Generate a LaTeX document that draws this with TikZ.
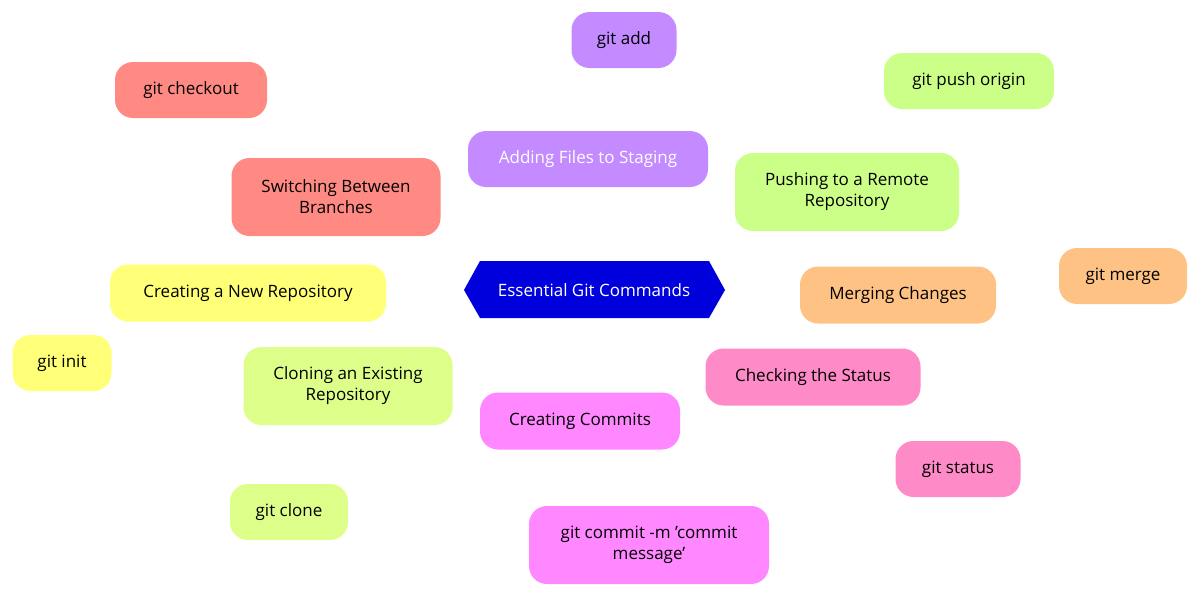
\documentclass[tikz,border=0pt]{standalone}
\usepackage{fontspec}
\setmainfont{Open Sans}
\usetikzlibrary{shapes.geometric}
\definecolor{cpur}{HTML}{C38BFF}
\definecolor{cred}{HTML}{FF8A84}
\definecolor{cgrn}{HTML}{CCFF88}
\definecolor{corg}{HTML}{FFC285}
\definecolor{cpnk}{HTML}{FF8AC8}
\definecolor{cmag}{HTML}{FF87FF}
\definecolor{clim}{HTML}{DDFF8A}
\definecolor{cyel}{HTML}{FFFF78}
\definecolor{croot}{HTML}{0000DD}
\begin{document}
\begin{tikzpicture}[x=1pt,y=-1pt,
  box/.style={draw=none,rounded corners=18pt,align=center,font=\fontsize{17}{21}\selectfont,inner sep=0pt},
  edge/.style={line width=11pt},
  leaf/.style={line width=9pt}]
\useasboundingbox (0,0) rectangle (1200,597);
% nodes
\node[box,fill=cpur,text=white,minimum width=240pt,minimum height=56pt] (add) at (588,159) {Adding Files to Staging};
\node[box,fill=cpur,minimum width=105pt,minimum height=56pt] (gadd) at (624,40) {git add};
\node[box,fill=cred,minimum width=209pt,minimum height=78pt] (sw) at (336,197) {Switching Between\\Branches};
\node[box,fill=cred,minimum width=152pt,minimum height=56pt] (gco) at (191,90) {git checkout};
\node[box,fill=cgrn,minimum width=224pt,minimum height=78pt] (push) at (847,192) {Pushing to a Remote\\Repository};
\node[box,fill=cgrn,minimum width=170pt,minimum height=56pt] (gpush) at (969,81) {git push origin};
\node[box,fill=corg,minimum width=196pt,minimum height=57pt] (merge) at (898,295) {Merging Changes};
\node[box,fill=corg,minimum width=128pt,minimum height=56pt] (gmerge) at (1123,276) {git merge};
\node[box,fill=cpnk,minimum width=215pt,minimum height=57pt] (stat) at (813,377) {Checking the Status};
\node[box,fill=cpnk,minimum width=125pt,minimum height=56pt] (gstat) at (958,469) {git status};
\node[box,fill=cmag,minimum width=200pt,minimum height=57pt] (com) at (580,421) {Creating Commits};
\node[box,fill=cmag,minimum width=240pt,minimum height=78pt] (gcom) at (649,545) {git commit -m 'commit\\message'};
\node[box,fill=clim,minimum width=209pt,minimum height=78pt] (clone) at (348,386) {Cloning an Existing\\Repository};
\node[box,fill=clim,minimum width=118pt,minimum height=56pt] (gclone) at (289,512) {git clone};
\node[box,fill=cyel,minimum width=276pt,minimum height=57pt] (new) at (248,293) {Creating a New Repository};
\node[box,fill=cyel,minimum width=99pt,minimum height=56pt] (ginit) at (62,363) {git init};
\node[regular polygon,regular polygon sides=6,shape border rotate=0,fill=croot,minimum size=10pt,inner sep=0pt,
  minimum width=0pt] (root) at (594,290) {};
\fill[croot] (464,290) -- (480,261) -- (709,261) -- (725,290) -- (709,318) -- (480,318) -- cycle;
\node[font=\fontsize{17}{21}\selectfont,text=white] (rootl) at (594,290) {Essential Git Commands};
% edges behind
\begin{scope}[on background layer/.try]
\end{scope}
\begin{pgfinterruptboundingbox}\end{pgfinterruptboundingbox}
\end{tikzpicture}
\end{document}
